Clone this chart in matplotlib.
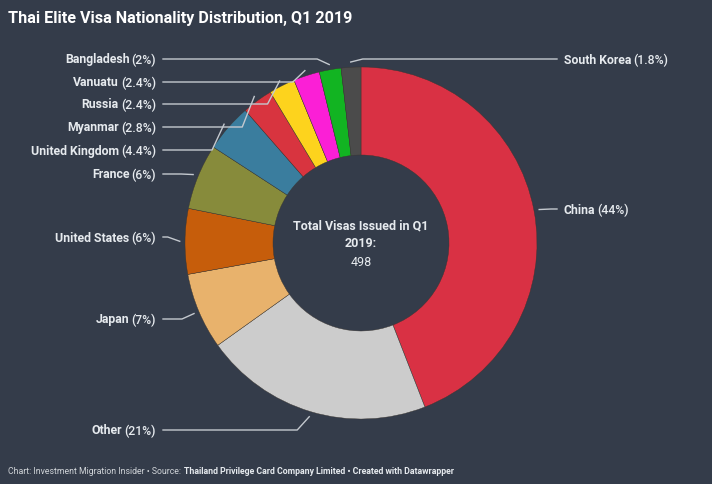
# Thai Elite Visa nationality donut, Q1 2019
import matplotlib as mpl
mpl.use('Agg')
import numpy as np
import matplotlib.pyplot as plt
from matplotlib.lines import Line2D

countries = ['China', 'Other', 'Japan', 'United States', 'France', 'United Kingdom',
             'Myanmar', 'Russia', 'Vanuatu', 'Bangladesh', 'South Korea']
shares = [44, 21, 7, 6, 6, 4.4, 2.8, 2.4, 2.4, 2, 1.8]
share_labels = ['44%', '21%', '7%', '6%', '6%', '4.4%', '2.8%', '2.4%', '2.4%', '2%', '1.8%']
colors = ['#d93144', '#cccccc', '#e8b26c', '#c65d0b', '#878b3b', '#3a7d9e',
          '#d8343f', '#fdd31d', '#fb1fd6', '#12b422', '#4b4b4b']
total_visas = 498

bg = '#343c4a'
txt = '#e6eaee'
W, H = 712, 485

fig = plt.figure(figsize=(W / 100, H / 100), dpi=100, facecolor=bg)

# donut placement in pixels (from top-left)
cx, cy, R = 361, 244, 176
ax = fig.add_axes([(cx - R) / W, 1 - (cy + R) / H, 2 * R / W, 2 * R / H])
ax.set_facecolor(bg)
wedges, _ = ax.pie(shares, colors=colors, startangle=90, counterclock=False,
                   radius=1, wedgeprops=dict(width=0.5, edgecolor='#3a3530', linewidth=0.3))
ax.set_xlim(-1, 1)
ax.set_ylim(-1, 1)
ax.set_aspect('equal')
ax.axis('off')

def fx(x):
    return x / W

def fy(y):
    return 1 - y / H

renderer = fig.canvas.get_renderer()

# label rows (pixel y) and side
label_y = {'China': 210, 'Other': 431, 'Japan': 320, 'United States': 238, 'France': 175,
           'United Kingdom': 151, 'Myanmar': 128, 'Russia': 105, 'Vanuatu': 83,
           'Bangladesh': 60, 'South Korea': 60}
right_side = ['China', 'South Korea']
fs = 8.8
line_col = '#c4c9cf'

for w, name, lab in zip(wedges, countries, share_labels):
    mid = np.deg2rad((w.theta1 + w.theta2) / 2)
    px, py = ax.transData.transform((1.03 * np.cos(mid), 1.03 * np.sin(mid)))
    ax_px, ax_py = px, H - py
    ly = label_y[name]
    if name in right_side:
        x0 = 564
        t1 = fig.text(fx(x0), fy(ly), name, ha='left', va='center', color=txt,
                      fontsize=fs, fontweight='bold', family='Roboto')
        wd = t1.get_window_extent(renderer).width
        fig.text(fx(x0 + wd + 2), fy(ly), '(' + lab + ')', ha='left', va='center',
                 color=txt, fontsize=fs, family='Roboto', fontweight='medium')
        ex = ax_px + 12
        xs = [ax_px, ex, x0 - 7]
        ys = [ax_py, ly, ly]
    else:
        x0 = 156
        t2 = fig.text(fx(x0), fy(ly), '(' + lab + ')', ha='right', va='center',
                      color=txt, fontsize=fs, family='Roboto', fontweight='medium')
        wd = t2.get_window_extent(renderer).width
        fig.text(fx(x0 - wd - 2), fy(ly), name, ha='right', va='center', color=txt,
                 fontsize=fs, fontweight='bold', family='Roboto')
        ex = ax_px - 12
        xs = [x0 + 7, ex, ax_px]
        ys = [ly, ly, ax_py]
    fig.add_artist(Line2D([fx(v) for v in xs], [fy(v) for v in ys], color=line_col,
                          lw=1.0, transform=fig.transFigure))

# center text
fig.text(fx(cx), fy(226), 'Total Visas Issued in Q1', ha='center', va='center',
         color=txt, fontsize=9, fontweight='bold', family='Roboto')
fig.text(fx(cx), fy(244), '2019:', ha='center', va='center',
         color=txt, fontsize=9, fontweight='bold', family='Roboto')
fig.text(fx(cx), fy(263), str(total_visas), ha='center', va='center',
         color=txt, fontsize=9, family='Roboto')

# title
fig.text(fx(8), fy(19), 'Thai Elite Visa Nationality Distribution, Q1 2019', ha='left',
         va='center', color='white', fontsize=11.6, fontweight='bold', family='Roboto')

# footer
t3 = fig.text(fx(8), fy(472), 'Chart: Investment Migration Insider \u2022 Source: ', ha='left',
              va='center', color='#d0d4d8', fontsize=6.3, family='Roboto')
wd = t3.get_window_extent(renderer).width
fig.text(fx(8 + wd + 1), fy(472), 'Thailand Privilege Card Company Limited \u2022 Created with Datawrapper',
         ha='left', va='center', color='#e6eaee', fontsize=6.3, fontweight='bold',
         family='Roboto')

plt.savefig('out.png', dpi=100, facecolor=bg)
